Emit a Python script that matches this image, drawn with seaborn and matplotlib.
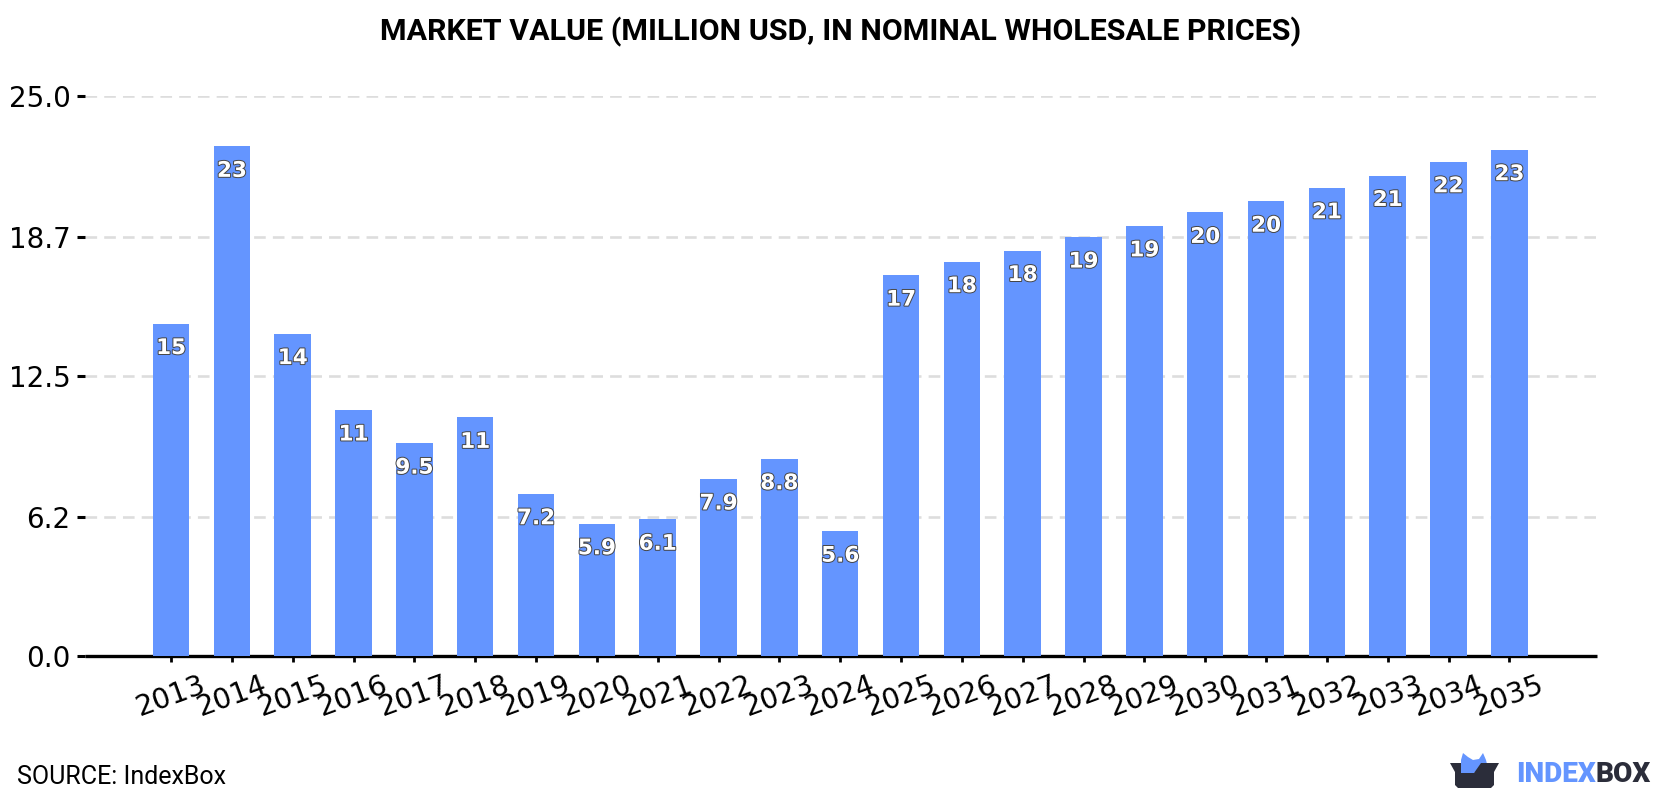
import matplotlib
matplotlib.use("Agg")
import matplotlib.pyplot as plt
import matplotlib.patheffects as pe
from matplotlib.patches import Polygon
import pandas as pd
import seaborn as sns

years = [str(y) for y in range(2013, 2036)]
market_value = [14.84, 22.75, 14.39, 10.98, 9.5, 10.65, 7.24, 5.9, 6.1, 7.9, 8.8, 5.57,
                17.0, 17.6, 18.1, 18.7, 19.2, 19.8, 20.3, 20.9, 21.45, 22.06, 22.6]
y_ticks = [0.0, 6.2, 12.5, 18.7, 25.0]
y_tick_labels = ["0.0", "6.2", "12.5", "18.7", "25.0"]

title = "MARKET VALUE (MILLION USD, IN NOMINAL WHOLESALE PRICES)"
source = "SOURCE: IndexBox"

BLUE = "#6495FF"
DARK = "#2B2D3A"
W, H = 1680, 800

sns.set_theme(style="white")
plt.rcParams["font.family"] = ["DejaVu Sans"]

fig = plt.figure(figsize=(W / 100, H / 100), dpi=100, facecolor="white")
ax = fig.add_axes([85 / W, 1 - 656 / H, (1597 - 85) / W, 560 / H])

frame = pd.DataFrame({"year": years, "value": market_value})
sns.barplot(data=frame, x="year", y="value", order=years, color=BLUE,
            saturation=1, width=0.6, linewidth=0, ax=ax, zorder=3)

ax.set_xlim(-1.415, 23.44)
ax.set_ylim(0, 25)
ax.set_xlabel("")
ax.set_ylabel("")
sns.despine(ax=ax, left=True, top=True, right=True)
ax.spines["bottom"].set_linewidth(2.4)
ax.spines["bottom"].set_color("black")
ax.spines["bottom"].set_capstyle("butt")

ax.set_yticks(y_ticks)
ax.set_yticklabels(y_tick_labels, fontsize=20, color="black")
ax.tick_params(axis="y", length=5.8, width=2.2, color="black", left=True, pad=4.5)
ax.tick_params(axis="x", length=4.5, width=2, color="black", bottom=True, pad=5.8)
ax.set_xticks(range(len(years)))
ax.set_xticklabels(years, fontsize=20.4, rotation=20, color="black", ha="center")

ax.grid(axis="y", color="#dddddd", linestyle=(0, (4.4, 2.7)), linewidth=1.9, zorder=0)
ax.grid(axis="x", visible=False)
ax.set_axisbelow(True)


def two_sig(v):
    return f"{v:.2g}"


outline = [pe.withStroke(linewidth=1.4, foreground="#444444")]
for i, v in enumerate(market_value):
    ax.annotate(two_sig(v), (i, v), xytext=(0, -17.6), textcoords="offset points",
                ha="center", va="center", fontsize=15.5, fontweight="bold",
                color="white", path_effects=outline, zorder=5)

fig.text(0.5 + 0.5 / W, 1 - 32 / H, title, ha="center", va="center",
         fontsize=21.85, fontweight="bold", family="Roboto", color="black")
fig.text(17 / W, 1 - 777.5 / H, source, ha="left", va="center",
         fontsize=18, family="Roboto", color="black")

# Brand mark: open box with blue ears, then the wordmark.
logo = fig.add_axes([0, 0, 1, 1], facecolor="none")
logo.set_xlim(0, W)
logo.set_ylim(H, 0)
logo.axis("off")
logo.add_patch(Polygon([[1461, 773], [1461, 760], [1463, 753], [1468, 757], [1473, 760],
                        [1479, 759], [1483, 753], [1486, 760], [1487, 764], [1474, 773]],
                       closed=True, color=BLUE, lw=0))
logo.add_patch(Polygon([[1450, 763], [1461, 763], [1461, 773], [1474, 773], [1481, 763],
                        [1499, 763], [1494, 772], [1494, 785], [1491, 788], [1458, 788],
                        [1455, 785], [1455, 772]],
                       closed=True, color=DARK, lw=0))
word_left = logo.text(1516, 774, "INDEX", ha="left", va="center", fontsize=20.2,
                      fontweight="black", family="Roboto", color=BLUE)
logo.annotate("BOX", xy=(1, 0.5), xycoords=word_left, xytext=(0, 0), textcoords="offset points",
              ha="left", va="center", fontsize=20.2, fontweight="black", family="Roboto", color=DARK)

fig.savefig("out.png", dpi=100, facecolor="white")
